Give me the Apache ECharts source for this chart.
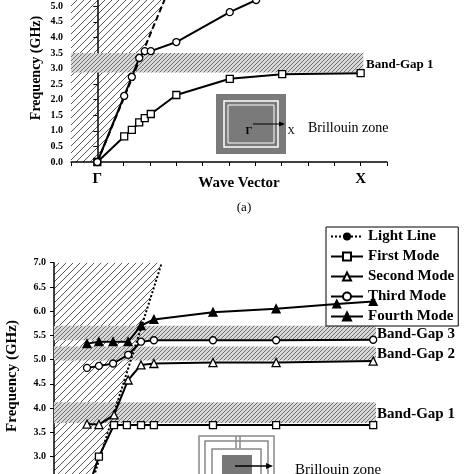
<!DOCTYPE html>
<html><head><meta charset="utf-8">
<script src="https://cdn.jsdelivr.net/npm/echarts@6/dist/echarts.min.js"></script>
<style>html,body{margin:0;padding:0;background:#fff}#c{width:474px;height:474px}</style>
</head><body><div id="c"></div><script>
// ---- data: top panel (a) ----
const topLight = [[0,0],[2.94,6]];
const topFirst = [[0,0],[1.02,0.82],[1.31,1.03],[1.59,1.27],[1.8,1.41],[2.03,1.54],[3.0,2.15],[5.03,2.67],[7.02,2.82],[10.0,2.85]];
const topSecond = [[0,0],[1.02,2.12],[1.31,2.73],[1.59,3.34],[1.8,3.56],[2.03,3.56],[3.0,3.85],[5.03,4.81],[6.03,5.2],[7.02,5.55]];
const topGap1 = [2.87,3.5];
const topHatch = [[-1,0],[0,0],[2.55,5.2],[-1,5.2]];
const topTicks = {0:'Γ',10:'X'};
// ---- data: bottom panel ----
const botLight = [[0,0],[3.43,7]];
const botFirst = [[0.9,2.0],[1.43,3.0],[1.91,3.65],[2.32,3.65],[2.77,3.65],[3.18,3.65],[5.06,3.65],[7.07,3.65],[10.16,3.65]];
const botSecond = [[1.05,3.67],[1.43,3.66],[1.91,3.86],[2.36,4.58],[2.77,4.89],[3.18,4.92],[5.06,4.94],[7.07,4.94],[10.16,4.97]];
const botThird = [[1.05,4.83],[1.43,4.87],[1.88,4.92],[2.36,5.1],[2.77,5.37],[3.18,5.4],[5.06,5.4],[7.07,5.4],[10.16,5.41]];
const botFourth = [[1.05,5.33],[1.43,5.37],[1.88,5.37],[2.36,5.37],[2.77,5.7],[3.18,5.83],[5.06,5.98],[7.07,6.05],[9.0,6.15],[10.16,6.2]];
const botGaps = [[3.69,4.12],[4.98,5.27],[5.4,5.7]];
const botHatch = [[0,2.64],[1.29,2.64],[3.43,7],[0,7]];
const gapNames = ['Band-Gap 1','Band-Gap 2','Band-Gap 3'];

function pat(dense){
  const c=document.createElement('canvas'); const s=dense?4:7; c.width=s;c.height=s;
  const g=c.getContext('2d'); g.fillStyle=dense?'#d8d8d8':'#fff'; g.fillRect(0,0,s,s);
  g.strokeStyle=dense?'#555':'#444'; g.lineWidth=dense?0.8:0.9;
  g.beginPath(); g.moveTo(0,s); g.lineTo(s,0); g.moveTo(-1,1); g.lineTo(1,-1); g.moveTo(s-1,s+1); g.lineTo(s+1,s-1); g.stroke();
  return {image:c,repeat:'repeat'};
}
const hatchFill=pat(false), gapFill=pat(true);
const F='"Liberation Serif","DejaVu Serif",serif';
const chart=echarts.init(document.getElementById('c'));
function poly(pts,fill,xi,z){
  return {type:'custom',xAxisIndex:xi,yAxisIndex:xi,z:z,silent:true,clip:true,data:[0],
    renderItem:(p,api)=>({type:'polygon',shape:{points:pts.map(q=>api.coord(q))},style:{fill:fill,stroke:null}})};
}
function band(g,x0,x1,xi){return poly([[x0,g[0]],[x1,g[0]],[x1,g[1]],[x0,g[1]]],gapFill,xi,1);}
function ser(name,data,sym,xi,filled){
  return {name:name,type:'line',xAxisIndex:xi,yAxisIndex:xi,data:data,symbol:sym,symbolSize:sym==='triangle'?8:7,z:5,clip:true,
    lineStyle:{color:'#000',width:2},itemStyle:{color:filled?'#000':'#fff',borderColor:'#000',borderWidth:1.3},showSymbol:true};
}
const axL={color:'#000',fontFamily:F,fontWeight:'bold',fontSize:10};
chart.setOption({
  animation:false,
  grid:[{left:71,right:87,top:0,bottom:312},{left:54,right:43,top:262.7,bottom:0}],
  xAxis:[
    {type:'value',gridIndex:0,min:-1,max:11,interval:1,axisLine:{lineStyle:{color:'#000',width:1.5}},axisTick:{length:4,lineStyle:{color:'#000'}},splitLine:{show:false},
     axisLabel:{...axL,fontSize:15,margin:10,formatter:v=>topTicks[v]||''}},
    {type:'value',gridIndex:1,min:0,max:12,interval:1,axisLine:{show:false},axisTick:{show:false},splitLine:{show:false},axisLabel:{show:false}}
  ],
  yAxis:[
    {type:'value',gridIndex:0,min:0,max:5.2,interval:0.5,axisLine:{show:true,lineStyle:{color:'#000',width:1.5}},axisTick:{show:true,length:4,lineStyle:{color:'#000'}},splitLine:{show:false},
     axisLabel:{...axL,showMaxLabel:false,formatter:v=>v.toFixed(1)}},
    {type:'value',gridIndex:1,min:2.64,max:7,axisLine:{show:true,lineStyle:{color:'#000',width:1.5}},axisTick:{show:true,length:4,lineStyle:{color:'#000'},customValues:[3,3.5,4,4.5,5,5.5,6,6.5,7]},splitLine:{show:false},
     axisLabel:{...axL,customValues:[3,3.5,4,4.5,5,5.5,6,6.5,7],formatter:v=>v.toFixed(1)}}
  ],
  legend:{data:['Light Line','First Mode','Second Mode','Third Mode','Fourth Mode'],orient:'vertical',left:326,top:227,itemGap:5,itemWidth:32,itemHeight:10,
    backgroundColor:'#fff',borderColor:'#000',borderWidth:1,padding:[2,4,2,4],textStyle:{fontFamily:F,fontWeight:'bold',fontSize:15,color:'#000'}},
  graphic:[
    {type:'text',x:36,y:68,rotation:Math.PI/2,style:{text:'Frequency (GHz)',font:'bold 14px '+F,fill:'#000',align:'center',verticalAlign:'middle'}},
    {type:'text',x:12,y:376,rotation:Math.PI/2,style:{text:'Frequency (GHz)',font:'bold 15px '+F,fill:'#000',align:'center',verticalAlign:'middle'}},
    {type:'text',x:239,y:183,style:{text:'Wave Vector',font:'bold 15px '+F,fill:'#000',align:'center',verticalAlign:'middle'}},
    {type:'text',x:244,y:208,style:{text:'(a)',font:'13px '+F,fill:'#000',align:'center',verticalAlign:'middle'}},
    {type:'text',x:366,y:65,style:{text:gapNames[0],font:'bold 13px '+F,fill:'#000',verticalAlign:'middle'}},
    {type:'text',x:377,y:334,style:{text:gapNames[2],font:'bold 15px '+F,fill:'#000',verticalAlign:'middle'}},
    {type:'text',x:377,y:354,style:{text:gapNames[1],font:'bold 15px '+F,fill:'#000',verticalAlign:'middle'}},
    {type:'text',x:377,y:414,style:{text:gapNames[0],font:'bold 15px '+F,fill:'#000',verticalAlign:'middle'}},
    {type:'rect',shape:{x:216,y:94,width:70,height:60},style:{fill:'#7a7a7a'}},
    {type:'rect',shape:{x:224,y:101,width:54,height:46},style:{fill:null,stroke:'#fff',lineWidth:1.5}},
    {type:'rect',shape:{x:228,y:105,width:46,height:38},style:{fill:null,stroke:'#fff',lineWidth:1}},
    {type:'text',x:249,y:131,style:{text:'Γ',font:'bold 11px '+F,fill:'#000',align:'center',verticalAlign:'middle'}},
    {type:'line',shape:{x1:253,y1:124,x2:281,y2:124},style:{stroke:'#000',lineWidth:1}},
    {type:'polygon',shape:{points:[[285,124],[279,121.5],[279,126.5]]},style:{fill:'#000'}},
    {type:'text',x:291,y:131,style:{text:'X',font:'10px '+F,fill:'#000',align:'center',verticalAlign:'middle'}},
    {type:'text',x:308,y:128,style:{text:'Brillouin zone',font:'14px '+F,fill:'#000',verticalAlign:'middle'}},
    {type:'rect',shape:{x:199,y:436,width:75,height:45},style:{fill:'#fff',stroke:'#888',lineWidth:1.5}},
    {type:'rect',shape:{x:205,y:441,width:63,height:40},style:{fill:null,stroke:'#888',lineWidth:1.5}},
    {type:'line',shape:{x1:236,y1:436,x2:236,y2:448},style:{stroke:'#888',lineWidth:1.5}},
    {type:'line',shape:{x1:240,y1:436,x2:240,y2:448},style:{stroke:'#888',lineWidth:1.5}},
    {type:'rect',shape:{x:212,y:449,width:49,height:30},style:{fill:null,stroke:'#888',lineWidth:1.5}},
    {type:'rect',shape:{x:222,y:455,width:30,height:25},style:{fill:'#777'}},
    {type:'line',shape:{x1:235,y1:466,x2:268,y2:466},style:{stroke:'#000',lineWidth:1.5}},
    {type:'polygon',shape:{points:[[273,466],[266,463],[266,469]]},style:{fill:'#000'}},
    {type:'text',x:295,y:470,style:{text:'Brillouin zone',font:'15px '+F,fill:'#000',verticalAlign:'middle'}}
  ],
  series:[
    poly(topHatch,hatchFill,0,0),
    band(topGap1,-1,10.1,0),
    {type:'line',xAxisIndex:0,yAxisIndex:0,data:topLight,symbol:'none',z:4,clip:true,lineStyle:{color:'#000',width:2,type:[6,3]}},
    ser('a1',topFirst,'rect',0,false),
    ser('a2',topSecond,'circle',0,false),
    poly(botHatch,hatchFill,1,0),
    ...botGaps.map(g=>band(g,0,10.25,1)),
    {name:'Light Line',type:'line',xAxisIndex:1,yAxisIndex:1,data:botLight,symbol:'none',z:4,clip:true,lineStyle:{color:'#000',width:2,type:[2,2]},itemStyle:{color:'#000'}},
    ser('First Mode',botFirst,'rect',1,false),
    ser('Second Mode',botSecond,'triangle',1,false),
    ser('Third Mode',botThird,'circle',1,false),
    ser('Fourth Mode',botFourth,'triangle',1,true)
  ]
});
</script></body></html>
